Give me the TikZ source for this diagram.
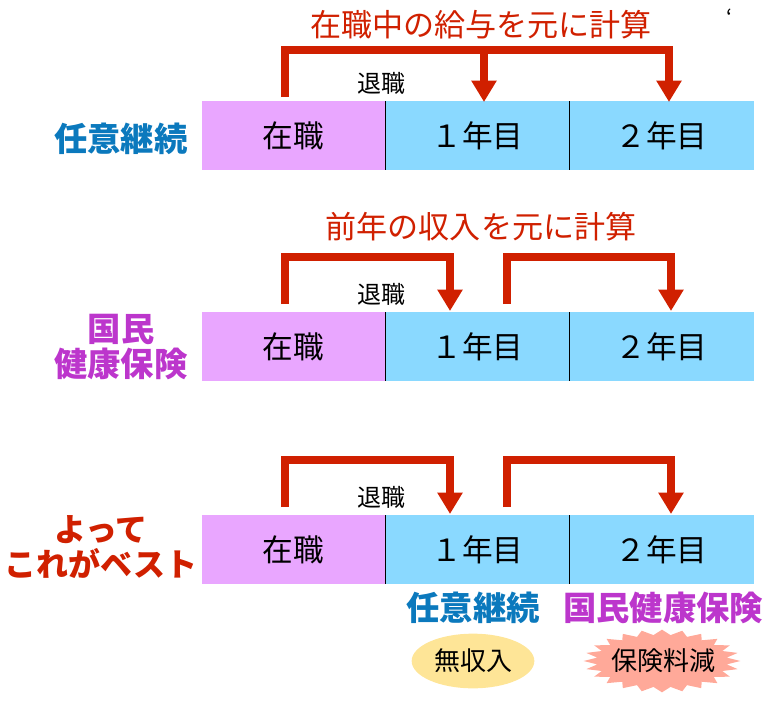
\documentclass[tikz,border=0pt]{standalone}
\usepackage{fontspec}
\usepackage{xcolor}
\setmainfont{Noto Sans CJK JP}
\usetikzlibrary{arrows.meta,positioning,shapes.geometric}
\definecolor{zaiiro}{HTML}{E9A6FF}
\definecolor{neniro}{HTML}{8AD9FF}
\definecolor{akairo}{HTML}{D02000}
\definecolor{aoiro}{HTML}{0B79BD}
\definecolor{muraiiro}{HTML}{BC36CC}
\definecolor{kiiro}{HTML}{FEE597}
\definecolor{momoiro}{HTML}{FFA999}
\tikzset{
  cell/.style={minimum width=138pt, minimum height=51.75pt, inner sep=0pt, outer sep=0pt, font=\fontsize{23}{25}\selectfont},
  zaibox/.style={cell, fill=zaiiro},
  nenbox/.style={cell, fill=neniro},
  taishoku/.style={font=\fontsize{18}{20}\selectfont, inner sep=0pt},
  midashi/.style={text=akairo, inner sep=0pt, font=\fontsize{23.3}{26}\selectfont},
  kubun/.style={inner sep=0pt, align=center, font=\bfseries\fontsize{25}{26.5}\selectfont},
  kei/.style={draw=akairo, line width=6pt},
  keiarrow/.style={kei, -{Triangle[length=16pt, width=18pt]}},
}
\begin{document}
\begin{tikzpicture}[x=0.75pt, y=-0.75pt]
% 全体の大きさ
\useasboundingbox (0,0) rectangle (768,707);

% 三段の帯
\foreach \r/\y in {a/135.5,b/346.5,c/549.5} {
    \node[zaibox] (zai\r) at (293.5,\y) {在職};
    \node[nenbox, right=0pt of zai\r] (ichi\r) {１年目};
    \node[nenbox, right=0pt of ichi\r] (ni\r) {２年目};
    \draw[line width=1.1pt] (ichi\r.north west) -- (ichi\r.south west);
    \draw[line width=1.1pt] (ni\r.north west) -- (ni\r.south west);
    \node[taishoku, above=5pt of ichi\r.north west, xshift=-3pt] (tai\r) {退職};
}

% 見出し
\node[midashi] (mida) at (481,25) {在職中の給与を元に計算};
\node[midashi] (midb) at (481,227) {前年の収入を元に計算};

% 左の区分
\node[kubun, text=aoiro] (ninia) at (121,139) {任意継続};
\node[kubun, text=muraiiro] (kokub) at (121,347) {国民\\健康保険};
\node[kubun, text=akairo, font=\bfseries\fontsize{24}{26.5}\selectfont] (yotte) at (101,547) {よって\\これがベスト};

% 上段の矢印
\coordinate (sa) at (285,97);
\coordinate (ka) at (285,50);
\coordinate (kb) at (669,50);
\coordinate (kc) at (669,46);
\coordinate (ta) at (484,50);
\coordinate (ea) at (484,102);
\coordinate (eb) at (669,102);
\draw[kei] (sa) -- (ka) -- (kb);
\draw[keiarrow] (ta) -- (ea);
\draw[keiarrow] (kc) -- (eb);

% 中段の矢印
\coordinate (sb) at (285,304);
\coordinate (ec) at (450,311);
\coordinate (sc) at (507,304);
\coordinate (ed) at (671,311);
\draw[keiarrow] (sb) |- (450,257) -- (ec);
\draw[keiarrow] (sc) |- (671,257) -- (ed);

% 下段の矢印
\coordinate (sd) at (285,507);
\coordinate (ee) at (450,514);
\coordinate (se) at (507,507);
\coordinate (ef) at (671,514);
\draw[keiarrow] (sd) |- (450,460) -- (ee);
\draw[keiarrow] (se) |- (671,460) -- (ef);

% 下の説明
\node[kubun, text=aoiro] (ninic) at (473,608) {任意継続};
\node[kubun, text=muraiiro] (kokuc) at (663,608) {国民健康保険};
\node[ellipse, fill=kiiro, minimum width=92pt, minimum height=41pt, inner sep=0pt, font=\fontsize{19.5}{21}\selectfont] (mushu) at (473,661) {無収入};
\node[star, star points=24, star point ratio=1.2, fill=momoiro, minimum size=47pt, inner sep=0pt, xscale=2.5, transform shape] (hoken) at (662,661) {};
\node[inner sep=0pt, font=\fontsize{19.5}{21}\selectfont] (genn) at (663,661) {保険料減};

% 右上の小さな印
\node[inner sep=0pt, font=\fontsize{16}{18}\selectfont] (shirushi) at (729,17) {`};
\end{tikzpicture}
\end{document}
